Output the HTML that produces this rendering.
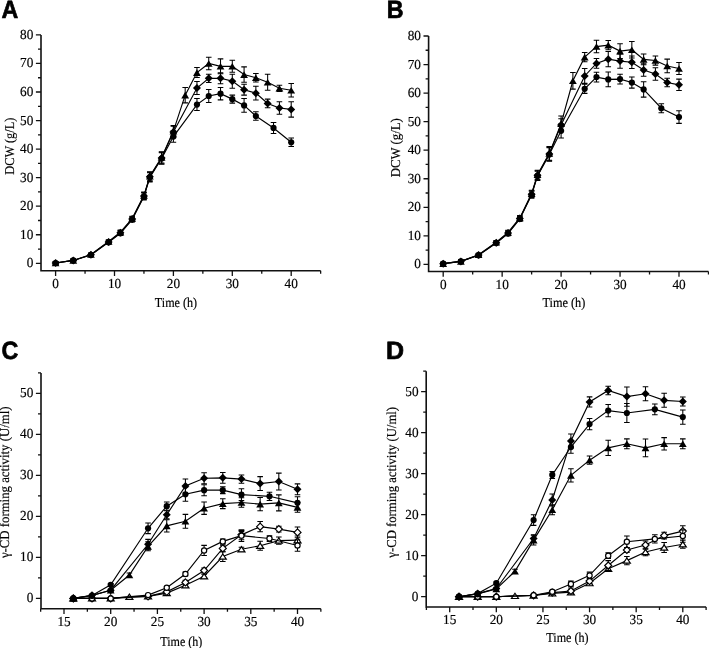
<!DOCTYPE html><html><head><meta charset="utf-8"><style>
html,body{margin:0;padding:0;background:#fff;width:709px;height:648px;overflow:hidden}
svg{display:block;will-change:transform}
text{text-rendering:geometricPrecision}
.ax{fill:none;stroke:#111;stroke-width:1.6}
.tk{fill:none;stroke:#111;stroke-width:1.3}
.ln{fill:none;stroke:#000;stroke-width:1.15}
.eb{fill:none;stroke:#000;stroke-width:1.05}
.f{fill:#000;stroke:none}
.o{fill:#fff;stroke:#000;stroke-width:1.2}
.t{font-family:"Liberation Serif",serif;font-size:13.8px;fill:#000;stroke:#000;stroke-width:0.18px}
.l{font-family:"Liberation Serif",serif;font-size:13.6px;fill:#000;stroke:#000;stroke-width:0.18px}
.p{font-family:"Liberation Sans",sans-serif;font-weight:bold;font-size:25px;fill:#000;stroke:#000;stroke-width:0.7px;stroke-linejoin:round}
</style></head><body>
<svg width="709" height="648" viewBox="0 0 709 648">
<text transform="translate(1.5 18) scale(0.93 1)" class="p">A</text>
<text transform="translate(386.8 17.8) scale(0.93 1)" class="p">B</text>
<text transform="translate(1.5 359.2) scale(0.93 1)" class="p">C</text>
<text x="386" y="359.2" class="p">D</text>
<path d="M41 34.9V270.7H320.65" class="ax"/>
<path d="M35.9 263.3H41M35.9 234.75H41M35.9 206.2H41M35.9 177.65H41M35.9 149.1H41M35.9 120.55H41M35.9 92H41M35.9 63.45H41M35.9 34.9H41M38 249.03H41M38 220.48H41M38 191.93H41M38 163.38H41M38 134.83H41M38 106.28H41M38 77.73H41M38 49.18H41M55.6 270.7V275.9M114.5 270.7V275.9M173.4 270.7V275.9M232.3 270.7V275.9M291.2 270.7V275.9M85.05 270.7V273.7M143.95 270.7V273.7M202.85 270.7V273.7M261.75 270.7V273.7M320.65 270.7V273.7" class="tk"/>
<text transform="translate(33.3 267.3) scale(0.96 1)" text-anchor="end" class="t">0</text>
<text transform="translate(33.3 238.75) scale(0.96 1)" text-anchor="end" class="t">10</text>
<text transform="translate(33.3 210.2) scale(0.96 1)" text-anchor="end" class="t">20</text>
<text transform="translate(33.3 181.65) scale(0.96 1)" text-anchor="end" class="t">30</text>
<text transform="translate(33.3 153.1) scale(0.96 1)" text-anchor="end" class="t">40</text>
<text transform="translate(33.3 124.55) scale(0.96 1)" text-anchor="end" class="t">50</text>
<text transform="translate(33.3 96) scale(0.96 1)" text-anchor="end" class="t">60</text>
<text transform="translate(33.3 67.45) scale(0.96 1)" text-anchor="end" class="t">70</text>
<text transform="translate(33.3 38.9) scale(0.96 1)" text-anchor="end" class="t">80</text>
<text transform="translate(55.6 288.1) scale(0.96 1)" text-anchor="middle" class="t">0</text>
<text transform="translate(114.5 288.1) scale(0.96 1)" text-anchor="middle" class="t">10</text>
<text transform="translate(173.4 288.1) scale(0.96 1)" text-anchor="middle" class="t">20</text>
<text transform="translate(232.3 288.1) scale(0.96 1)" text-anchor="middle" class="t">30</text>
<text transform="translate(291.2 288.1) scale(0.96 1)" text-anchor="middle" class="t">40</text>
<path d="M428.6 36V271.5H708.47" class="ax"/>
<path d="M423.5 264.4H428.6M423.5 235.85H428.6M423.5 207.3H428.6M423.5 178.75H428.6M423.5 150.2H428.6M423.5 121.65H428.6M423.5 93.1H428.6M423.5 64.55H428.6M423.5 36H428.6M425.6 250.12H428.6M425.6 221.57H428.6M425.6 193.02H428.6M425.6 164.47H428.6M425.6 135.92H428.6M425.6 107.37H428.6M425.6 78.82H428.6M425.6 50.27H428.6M443.2 271.5V276.7M502.15 271.5V276.7M561.1 271.5V276.7M620.05 271.5V276.7M679 271.5V276.7M472.68 271.5V274.5M531.62 271.5V274.5M590.58 271.5V274.5M649.52 271.5V274.5M708.47 271.5V274.5" class="tk"/>
<text transform="translate(420.9 268.4) scale(0.96 1)" text-anchor="end" class="t">0</text>
<text transform="translate(420.9 239.85) scale(0.96 1)" text-anchor="end" class="t">10</text>
<text transform="translate(420.9 211.3) scale(0.96 1)" text-anchor="end" class="t">20</text>
<text transform="translate(420.9 182.75) scale(0.96 1)" text-anchor="end" class="t">30</text>
<text transform="translate(420.9 154.2) scale(0.96 1)" text-anchor="end" class="t">40</text>
<text transform="translate(420.9 125.65) scale(0.96 1)" text-anchor="end" class="t">50</text>
<text transform="translate(420.9 97.1) scale(0.96 1)" text-anchor="end" class="t">60</text>
<text transform="translate(420.9 68.55) scale(0.96 1)" text-anchor="end" class="t">70</text>
<text transform="translate(420.9 40) scale(0.96 1)" text-anchor="end" class="t">80</text>
<text transform="translate(443.2 288.9) scale(0.96 1)" text-anchor="middle" class="t">0</text>
<text transform="translate(502.15 288.9) scale(0.96 1)" text-anchor="middle" class="t">10</text>
<text transform="translate(561.1 288.9) scale(0.96 1)" text-anchor="middle" class="t">20</text>
<text transform="translate(620.05 288.9) scale(0.96 1)" text-anchor="middle" class="t">30</text>
<text transform="translate(679 288.9) scale(0.96 1)" text-anchor="middle" class="t">40</text>
<path d="M41 372.9V608.7H320.85" class="ax"/>
<path d="M35.9 598.4H41M35.9 557.4H41M35.9 516.4H41M35.9 475.4H41M35.9 434.4H41M35.9 393.4H41M38 577.9H41M38 536.9H41M38 495.9H41M38 454.9H41M38 413.9H41M38 372.9H41M64 608.7V613.9M110.7 608.7V613.9M157.4 608.7V613.9M204.1 608.7V613.9M250.8 608.7V613.9M297.5 608.7V613.9M40.65 608.7V611.7M87.35 608.7V611.7M134.05 608.7V611.7M180.75 608.7V611.7M227.45 608.7V611.7M274.15 608.7V611.7M320.85 608.7V611.7" class="tk"/>
<text transform="translate(33.3 602.4) scale(0.96 1)" text-anchor="end" class="t">0</text>
<text transform="translate(33.3 561.4) scale(0.96 1)" text-anchor="end" class="t">10</text>
<text transform="translate(33.3 520.4) scale(0.96 1)" text-anchor="end" class="t">20</text>
<text transform="translate(33.3 479.4) scale(0.96 1)" text-anchor="end" class="t">30</text>
<text transform="translate(33.3 438.4) scale(0.96 1)" text-anchor="end" class="t">40</text>
<text transform="translate(33.3 397.4) scale(0.96 1)" text-anchor="end" class="t">50</text>
<text transform="translate(64 626.1) scale(0.96 1)" text-anchor="middle" class="t">15</text>
<text transform="translate(110.7 626.1) scale(0.96 1)" text-anchor="middle" class="t">20</text>
<text transform="translate(157.4 626.1) scale(0.96 1)" text-anchor="middle" class="t">25</text>
<text transform="translate(204.1 626.1) scale(0.96 1)" text-anchor="middle" class="t">30</text>
<text transform="translate(250.8 626.1) scale(0.96 1)" text-anchor="middle" class="t">35</text>
<text transform="translate(297.5 626.1) scale(0.96 1)" text-anchor="middle" class="t">40</text>
<path d="M426.2 371.2V607H706.11" class="ax"/>
<path d="M421.1 596.7H426.2M421.1 555.7H426.2M421.1 514.7H426.2M421.1 473.7H426.2M421.1 432.7H426.2M421.1 391.7H426.2M423.2 576.2H426.2M423.2 535.2H426.2M423.2 494.2H426.2M423.2 453.2H426.2M423.2 412.2H426.2M423.2 371.2H426.2M449.7 607V612.2M496.32 607V612.2M542.94 607V612.2M589.56 607V612.2M636.18 607V612.2M682.8 607V612.2M426.39 607V610M473.01 607V610M519.63 607V610M566.25 607V610M612.87 607V610M659.49 607V610M706.11 607V610" class="tk"/>
<text transform="translate(418.5 600.7) scale(0.96 1)" text-anchor="end" class="t">0</text>
<text transform="translate(418.5 559.7) scale(0.96 1)" text-anchor="end" class="t">10</text>
<text transform="translate(418.5 518.7) scale(0.96 1)" text-anchor="end" class="t">20</text>
<text transform="translate(418.5 477.7) scale(0.96 1)" text-anchor="end" class="t">30</text>
<text transform="translate(418.5 436.7) scale(0.96 1)" text-anchor="end" class="t">40</text>
<text transform="translate(418.5 395.7) scale(0.96 1)" text-anchor="end" class="t">50</text>
<text transform="translate(449.7 624.4) scale(0.96 1)" text-anchor="middle" class="t">15</text>
<text transform="translate(496.32 624.4) scale(0.96 1)" text-anchor="middle" class="t">20</text>
<text transform="translate(542.94 624.4) scale(0.96 1)" text-anchor="middle" class="t">25</text>
<text transform="translate(589.56 624.4) scale(0.96 1)" text-anchor="middle" class="t">30</text>
<text transform="translate(636.18 624.4) scale(0.96 1)" text-anchor="middle" class="t">35</text>
<text transform="translate(682.8 624.4) scale(0.96 1)" text-anchor="middle" class="t">40</text>
<text class="l" text-anchor="middle" transform="translate(13.5 146.2) rotate(-90)" textLength="57.2" lengthAdjust="spacingAndGlyphs">DCW (g/L)</text>
<text class="l" text-anchor="middle" transform="translate(399.8 147.7) rotate(-90)" textLength="59" lengthAdjust="spacingAndGlyphs">DCW (g/L)</text>
<text class="l" text-anchor="middle" transform="translate(9.4 482.3) rotate(-90)" textLength="151.6" lengthAdjust="spacingAndGlyphs">γ-CD forming activity (U/ml)</text>
<text class="l" text-anchor="middle" transform="translate(396 482.3) rotate(-90)" textLength="150.7" lengthAdjust="spacingAndGlyphs">γ-CD forming activity (U/ml)</text>
<text class="l" x="176" y="306.7" text-anchor="middle" textLength="42.3" lengthAdjust="spacingAndGlyphs">Time (h)</text>
<text class="l" x="563.9" y="306.7" text-anchor="middle" textLength="42.9" lengthAdjust="spacingAndGlyphs">Time (h)</text>
<text class="l" x="181.3" y="645.7" text-anchor="middle" textLength="42.1" lengthAdjust="spacingAndGlyphs">Time (h)</text>
<text class="l" x="567.5" y="641.6" text-anchor="middle" textLength="42.3" lengthAdjust="spacingAndGlyphs">Time (h)</text>
<path d="M55.6 263.01L73.27 260.44L90.94 254.96L108.61 242.29L120.39 233.27L132.17 219.56L143.95 196.49L149.84 177.36L161.62 158.52L173.4 136.54L196.96 104.56L208.74 96L220.52 93.71L232.3 99.14L244.08 105.42L255.86 115.98L273.53 127.97L291.2 142.25" class="ln"/>
<path d="M55.6 261.59V264.44M52.8 261.59H58.4M52.8 264.44H58.4M73.27 259.02V261.87M70.47 259.02H76.07M70.47 261.87H76.07M90.94 253.54V256.39M88.14 253.54H93.74M88.14 256.39H93.74M108.61 240.57V244M105.81 240.57H111.41M105.81 244H111.41M120.39 230.98V235.55M117.59 230.98H123.19M117.59 235.55H123.19M132.17 217.28V221.85M129.37 217.28H134.97M129.37 221.85H134.97M143.95 193.07V199.92M141.15 193.07H146.75M141.15 199.92H146.75M149.84 172.8V181.93M147.04 172.8H152.64M147.04 181.93H152.64M161.62 152.81V164.23M158.82 152.81H164.42M158.82 164.23H164.42M173.4 130.83V142.25M170.6 130.83H176.2M170.6 142.25H176.2M196.96 98.57V110.56M194.16 98.57H199.76M194.16 110.56H199.76M208.74 89.43V102.56M205.94 89.43H211.54M205.94 102.56H211.54M220.52 87.57V99.85M217.72 87.57H223.32M217.72 99.85H223.32M232.3 95.14V103.13M229.5 95.14H235.1M229.5 103.13H235.1M244.08 98.57V112.27M241.28 98.57H246.88M241.28 112.27H246.88M255.86 111.7V120.26M253.06 111.7H258.66M253.06 120.26H258.66M273.53 122.55V133.4M270.73 122.55H276.33M270.73 133.4H276.33M291.2 137.97V146.53M288.4 137.97H294M288.4 146.53H294" class="eb"/>
<circle cx="55.6" cy="263.01" r="3.1" class="f"/>
<circle cx="73.27" cy="260.44" r="3.1" class="f"/>
<circle cx="90.94" cy="254.96" r="3.1" class="f"/>
<circle cx="108.61" cy="242.29" r="3.1" class="f"/>
<circle cx="120.39" cy="233.27" r="3.1" class="f"/>
<circle cx="132.17" cy="219.56" r="3.1" class="f"/>
<circle cx="143.95" cy="196.49" r="3.1" class="f"/>
<circle cx="149.84" cy="177.36" r="3.1" class="f"/>
<circle cx="161.62" cy="158.52" r="3.1" class="f"/>
<circle cx="173.4" cy="136.54" r="3.1" class="f"/>
<circle cx="196.96" cy="104.56" r="3.1" class="f"/>
<circle cx="208.74" cy="96" r="3.1" class="f"/>
<circle cx="220.52" cy="93.71" r="3.1" class="f"/>
<circle cx="232.3" cy="99.14" r="3.1" class="f"/>
<circle cx="244.08" cy="105.42" r="3.1" class="f"/>
<circle cx="255.86" cy="115.98" r="3.1" class="f"/>
<circle cx="273.53" cy="127.97" r="3.1" class="f"/>
<circle cx="291.2" cy="142.25" r="3.1" class="f"/>
<path d="M55.6 263.01L73.27 260.44L90.94 254.51L108.61 241.49L120.39 232.24L132.17 218.53L143.95 195.35L149.84 176.22L161.62 157.38L173.4 131.11L185.18 95.14L196.96 72.59L208.74 63.45L220.52 66.31L232.3 66.31L244.08 74.58L255.86 77.73L267.64 82.29L279.42 88.29L291.2 90.29" class="ln"/>
<path d="M55.6 261.59V264.44M52.8 261.59H58.4M52.8 264.44H58.4M73.27 259.02V261.87M70.47 259.02H76.07M70.47 261.87H76.07M90.94 253.08V255.93M88.14 253.08H93.74M88.14 255.93H93.74M108.61 239.77V243.2M105.81 239.77H111.41M105.81 243.2H111.41M120.39 229.95V234.52M117.59 229.95H123.19M117.59 234.52H123.19M132.17 216.25V220.82M129.37 216.25H134.97M129.37 220.82H134.97M143.95 191.93V198.78M141.15 191.93H146.75M141.15 198.78H146.75M149.84 171.65V180.79M147.04 171.65H152.64M147.04 180.79H152.64M161.62 151.67V163.09M158.82 151.67H164.42M158.82 163.09H164.42M173.4 125.4V136.82M170.6 125.4H176.2M170.6 136.82H176.2M185.18 87.43V102.85M182.38 87.43H187.98M182.38 102.85H187.98M196.96 67.59V77.58M194.16 67.59H199.76M194.16 77.58H199.76M208.74 57.17V69.73M205.94 57.17H211.54M205.94 69.73H211.54M220.52 58.88V73.73M217.72 58.88H223.32M217.72 73.73H223.32M232.3 60.31V72.3M229.5 60.31H235.1M229.5 72.3H235.1M244.08 66.88V82.29M241.28 66.88H246.88M241.28 82.29H246.88M255.86 73.44V82.01M253.06 73.44H258.66M253.06 82.01H258.66M267.64 74.3V90.29M264.84 74.3H270.44M264.84 90.29H270.44M279.42 85.15V91.43M276.62 85.15H282.22M276.62 91.43H282.22M291.2 83.58V97M288.4 83.58H294M288.4 97H294" class="eb"/>
<path d="M55.6 259.71L59.5 266.31L51.7 266.31Z" class="f"/>
<path d="M73.27 257.14L77.17 263.75L69.37 263.75Z" class="f"/>
<path d="M90.94 251.21L94.84 257.81L87.04 257.81Z" class="f"/>
<path d="M108.61 238.19L112.51 244.79L104.71 244.79Z" class="f"/>
<path d="M120.39 228.94L124.29 235.54L116.49 235.54Z" class="f"/>
<path d="M132.17 215.23L136.07 221.83L128.27 221.83Z" class="f"/>
<path d="M143.95 192.05L147.85 198.65L140.05 198.65Z" class="f"/>
<path d="M149.84 172.92L153.74 179.52L145.94 179.52Z" class="f"/>
<path d="M161.62 154.08L165.52 160.68L157.72 160.68Z" class="f"/>
<path d="M173.4 127.81L177.3 134.41L169.5 134.41Z" class="f"/>
<path d="M185.18 91.84L189.08 98.44L181.28 98.44Z" class="f"/>
<path d="M196.96 69.29L200.86 75.89L193.06 75.89Z" class="f"/>
<path d="M208.74 60.15L212.64 66.75L204.84 66.75Z" class="f"/>
<path d="M220.52 63.01L224.42 69.61L216.62 69.61Z" class="f"/>
<path d="M232.3 63.01L236.2 69.61L228.4 69.61Z" class="f"/>
<path d="M244.08 71.28L247.98 77.88L240.18 77.88Z" class="f"/>
<path d="M255.86 74.43L259.76 81.03L251.96 81.03Z" class="f"/>
<path d="M267.64 78.99L271.54 85.59L263.74 85.59Z" class="f"/>
<path d="M279.42 84.99L283.32 91.59L275.52 91.59Z" class="f"/>
<path d="M291.2 86.99L295.1 93.59L287.3 93.59Z" class="f"/>
<path d="M55.6 263.01L73.27 260.44L90.94 254.74L108.61 241.89L120.39 232.75L132.17 219.05L143.95 195.92L149.84 176.79L161.62 157.95L173.4 131.97L196.96 88L208.74 78.3L220.52 78.3L232.3 81.15L244.08 89.72L255.86 93.14L267.64 103.42L279.42 107.99L291.2 109.42" class="ln"/>
<path d="M55.6 261.59V264.44M52.8 261.59H58.4M52.8 264.44H58.4M73.27 259.02V261.87M70.47 259.02H76.07M70.47 261.87H76.07M90.94 253.31V256.16M88.14 253.31H93.74M88.14 256.16H93.74M108.61 240.17V243.6M105.81 240.17H111.41M105.81 243.6H111.41M120.39 230.47V235.04M117.59 230.47H123.19M117.59 235.04H123.19M132.17 216.76V221.33M129.37 216.76H134.97M129.37 221.33H134.97M143.95 192.5V199.35M141.15 192.5H146.75M141.15 199.35H146.75M149.84 172.23V181.36M147.04 172.23H152.64M147.04 181.36H152.64M161.62 152.24V163.66M158.82 152.24H164.42M158.82 163.66H164.42M173.4 126.26V137.68M170.6 126.26H176.2M170.6 137.68H176.2M196.96 81.44V94.57M194.16 81.44H199.76M194.16 94.57H199.76M208.74 74.16V82.44M205.94 74.16H211.54M205.94 82.44H211.54M220.52 72.87V83.72M217.72 72.87H223.32M217.72 83.72H223.32M232.3 74.16V88.15M229.5 74.16H235.1M229.5 88.15H235.1M244.08 84.29V95.14M241.28 84.29H246.88M241.28 95.14H246.88M255.86 86.29V99.99M253.06 86.29H258.66M253.06 99.99H258.66M267.64 99.14V107.7M264.84 99.14H270.44M264.84 107.7H270.44M279.42 101.71V114.27M276.62 101.71H282.22M276.62 114.27H282.22M291.2 101.71V117.12M288.4 101.71H294M288.4 117.12H294" class="eb"/>
<path d="M55.6 259.01L59.6 263.01L55.6 267.01L51.6 263.01Z" class="f"/>
<path d="M73.27 256.44L77.27 260.44L73.27 264.44L69.27 260.44Z" class="f"/>
<path d="M90.94 250.74L94.94 254.74L90.94 258.74L86.94 254.74Z" class="f"/>
<path d="M108.61 237.89L112.61 241.89L108.61 245.89L104.61 241.89Z" class="f"/>
<path d="M120.39 228.75L124.39 232.75L120.39 236.75L116.39 232.75Z" class="f"/>
<path d="M132.17 215.05L136.17 219.05L132.17 223.05L128.17 219.05Z" class="f"/>
<path d="M143.95 191.92L147.95 195.92L143.95 199.92L139.95 195.92Z" class="f"/>
<path d="M149.84 172.79L153.84 176.79L149.84 180.79L145.84 176.79Z" class="f"/>
<path d="M161.62 153.95L165.62 157.95L161.62 161.95L157.62 157.95Z" class="f"/>
<path d="M173.4 127.97L177.4 131.97L173.4 135.97L169.4 131.97Z" class="f"/>
<path d="M196.96 84L200.96 88L196.96 92L192.96 88Z" class="f"/>
<path d="M208.74 74.3L212.74 78.3L208.74 82.3L204.74 78.3Z" class="f"/>
<path d="M220.52 74.3L224.52 78.3L220.52 82.3L216.52 78.3Z" class="f"/>
<path d="M232.3 77.15L236.3 81.15L232.3 85.15L228.3 81.15Z" class="f"/>
<path d="M244.08 85.72L248.08 89.72L244.08 93.72L240.08 89.72Z" class="f"/>
<path d="M255.86 89.14L259.86 93.14L255.86 97.14L251.86 93.14Z" class="f"/>
<path d="M267.64 99.42L271.64 103.42L267.64 107.42L263.64 103.42Z" class="f"/>
<path d="M279.42 103.99L283.42 107.99L279.42 111.99L275.42 107.99Z" class="f"/>
<path d="M291.2 105.42L295.2 109.42L291.2 113.42L287.2 109.42Z" class="f"/>
<path d="M443.2 263.69L460.88 261.4L478.57 255.21L496.25 243.1L508.04 233.51L519.84 218.95L531.62 194.74L537.52 175.89L549.31 154.48L561.1 130.79L584.68 88.82L596.47 77.11L608.26 79.4L620.05 79.11L631.84 82.54L643.63 89.39L661.31 108.23L679 117.08" class="ln"/>
<path d="M443.2 262.26V265.11M440.4 262.26H446M440.4 265.11H446M460.88 259.97V262.83M458.08 259.97H463.69M458.08 262.83H463.69M478.57 253.78V256.63M475.77 253.78H481.37M475.77 256.63H481.37M496.25 241.39V244.81M493.45 241.39H499.06M493.45 244.81H499.06M508.04 231.22V235.79M505.24 231.22H510.84M505.24 235.79H510.84M519.84 216.66V221.23M517.04 216.66H522.63M517.04 221.23H522.63M531.62 191.31V198.16M528.83 191.31H534.42M528.83 198.16H534.42M537.52 171.33V180.46M534.72 171.33H540.32M534.72 180.46H540.32M549.31 147.63V161.33M546.51 147.63H552.11M546.51 161.33H552.11M561.1 123.65V137.92M558.3 123.65H563.9M558.3 137.92H563.9M584.68 84.25V93.39M581.88 84.25H587.48M581.88 93.39H587.48M596.47 72.26V81.97M593.67 72.26H599.27M593.67 81.97H599.27M608.26 71.97V86.82M605.46 71.97H611.06M605.46 86.82H611.06M620.05 74.26V83.96M617.25 74.26H622.85M617.25 83.96H622.85M631.84 76.97V88.1M629.04 76.97H634.64M629.04 88.1H634.64M643.63 81.68V97.1M640.83 81.68H646.43M640.83 97.1H646.43M661.31 103.66V112.8M658.51 103.66H664.11M658.51 112.8H664.11M679 110.8V123.36M676.2 110.8H681.8M676.2 123.36H681.8" class="eb"/>
<circle cx="443.2" cy="263.69" r="3.1" class="f"/>
<circle cx="460.88" cy="261.4" r="3.1" class="f"/>
<circle cx="478.57" cy="255.21" r="3.1" class="f"/>
<circle cx="496.25" cy="243.1" r="3.1" class="f"/>
<circle cx="508.04" cy="233.51" r="3.1" class="f"/>
<circle cx="519.84" cy="218.95" r="3.1" class="f"/>
<circle cx="531.62" cy="194.74" r="3.1" class="f"/>
<circle cx="537.52" cy="175.89" r="3.1" class="f"/>
<circle cx="549.31" cy="154.48" r="3.1" class="f"/>
<circle cx="561.1" cy="130.79" r="3.1" class="f"/>
<circle cx="584.68" cy="88.82" r="3.1" class="f"/>
<circle cx="596.47" cy="77.11" r="3.1" class="f"/>
<circle cx="608.26" cy="79.4" r="3.1" class="f"/>
<circle cx="620.05" cy="79.11" r="3.1" class="f"/>
<circle cx="631.84" cy="82.54" r="3.1" class="f"/>
<circle cx="643.63" cy="89.39" r="3.1" class="f"/>
<circle cx="661.31" cy="108.23" r="3.1" class="f"/>
<circle cx="679" cy="117.08" r="3.1" class="f"/>
<path d="M443.2 263.69L460.88 261.4L478.57 254.75L496.25 242.3L508.04 232.48L519.84 217.92L531.62 193.6L537.52 174.75L549.31 153.34L561.1 123.65L572.89 80.82L584.68 57.13L596.47 46.56L608.26 45.14L620.05 51.13L631.84 49.7L643.63 59.41L655.42 60.55L667.21 65.98L679 68.55" class="ln"/>
<path d="M443.2 262.26V265.11M440.4 262.26H446M440.4 265.11H446M460.88 259.97V262.83M458.08 259.97H463.69M458.08 262.83H463.69M478.57 253.32V256.18M475.77 253.32H481.37M475.77 256.18H481.37M496.25 240.59V244.02M493.45 240.59H499.06M493.45 244.02H499.06M508.04 230.2V234.77M505.24 230.2H510.84M505.24 234.77H510.84M519.84 215.64V220.2M517.04 215.64H522.63M517.04 220.2H522.63M531.62 190.17V197.02M528.83 190.17H534.42M528.83 197.02H534.42M537.52 170.18V179.32M534.72 170.18H540.32M534.72 179.32H540.32M549.31 146.49V160.19M546.51 146.49H552.11M546.51 160.19H552.11M561.1 115.94V131.36M558.3 115.94H563.9M558.3 131.36H563.9M572.89 72.54V89.1M570.09 72.54H575.69M570.09 89.1H575.69M584.68 52.56V61.69M581.88 52.56H587.48M581.88 61.69H587.48M596.47 40.28V52.84M593.67 40.28H599.27M593.67 52.84H599.27M608.26 40.57V49.7M605.46 40.57H611.06M605.46 49.7H611.06M620.05 43.71V58.55M617.25 43.71H622.85M617.25 58.55H622.85M631.84 41.42V57.98M629.04 41.42H634.64M629.04 57.98H634.64M643.63 53.99V64.84M640.83 53.99H646.43M640.83 64.84H646.43M655.42 55.98V65.12M652.62 55.98H658.22M652.62 65.12H658.22M667.21 59.13V72.83M664.41 59.13H670.01M664.41 72.83H670.01M679 62.55V74.54M676.2 62.55H681.8M676.2 74.54H681.8" class="eb"/>
<path d="M443.2 260.39L447.1 266.99L439.3 266.99Z" class="f"/>
<path d="M460.88 258.1L464.78 264.7L456.99 264.7Z" class="f"/>
<path d="M478.57 251.45L482.47 258.05L474.67 258.05Z" class="f"/>
<path d="M496.25 239L500.15 245.6L492.36 245.6Z" class="f"/>
<path d="M508.04 229.18L511.94 235.78L504.14 235.78Z" class="f"/>
<path d="M519.84 214.62L523.74 221.22L515.94 221.22Z" class="f"/>
<path d="M531.62 190.3L535.52 196.9L527.73 196.9Z" class="f"/>
<path d="M537.52 171.45L541.42 178.05L533.62 178.05Z" class="f"/>
<path d="M549.31 150.04L553.21 156.64L545.41 156.64Z" class="f"/>
<path d="M561.1 120.35L565 126.95L557.2 126.95Z" class="f"/>
<path d="M572.89 77.52L576.79 84.12L568.99 84.12Z" class="f"/>
<path d="M584.68 53.83L588.58 60.43L580.78 60.43Z" class="f"/>
<path d="M596.47 43.26L600.37 49.86L592.57 49.86Z" class="f"/>
<path d="M608.26 41.84L612.16 48.44L604.36 48.44Z" class="f"/>
<path d="M620.05 47.83L623.95 54.43L616.15 54.43Z" class="f"/>
<path d="M631.84 46.4L635.74 53L627.94 53Z" class="f"/>
<path d="M643.63 56.11L647.53 62.71L639.73 62.71Z" class="f"/>
<path d="M655.42 57.25L659.32 63.85L651.52 63.85Z" class="f"/>
<path d="M667.21 62.68L671.11 69.28L663.31 69.28Z" class="f"/>
<path d="M679 65.25L682.9 71.85L675.1 71.85Z" class="f"/>
<path d="M443.2 263.69L460.88 261.4L478.57 254.98L496.25 242.7L508.04 232.99L519.84 218.43L531.62 194.17L537.52 175.32L549.31 153.91L561.1 125.08L584.68 75.97L596.47 63.41L608.26 59.13L620.05 61.12L631.84 62.27L643.63 69.97L655.42 73.97L667.21 82.54L679 84.82" class="ln"/>
<path d="M443.2 262.26V265.11M440.4 262.26H446M440.4 265.11H446M460.88 259.97V262.83M458.08 259.97H463.69M458.08 262.83H463.69M478.57 253.55V256.41M475.77 253.55H481.37M475.77 256.41H481.37M496.25 240.99V244.41M493.45 240.99H499.06M493.45 244.41H499.06M508.04 230.71V235.28M505.24 230.71H510.84M505.24 235.28H510.84M519.84 216.15V220.72M517.04 216.15H522.63M517.04 220.72H522.63M531.62 190.74V197.59M528.83 190.74H534.42M528.83 197.59H534.42M537.52 170.76V179.89M534.72 170.76H540.32M534.72 179.89H540.32M549.31 147.06V160.76M546.51 147.06H552.11M546.51 160.76H552.11M561.1 118.79V131.36M558.3 118.79H563.9M558.3 131.36H563.9M584.68 68.55V83.39M581.88 68.55H587.48M581.88 83.39H587.48M596.47 58.55V68.26M593.67 58.55H599.27M593.67 68.26H599.27M608.26 51.42V66.83M605.46 51.42H611.06M605.46 66.83H611.06M620.05 53.99V68.26M617.25 53.99H622.85M617.25 68.26H622.85M631.84 55.98V68.55M629.04 55.98H634.64M629.04 68.55H634.64M643.63 63.69V76.26M640.83 63.69H646.43M640.83 76.26H646.43M655.42 67.69V80.25M652.62 67.69H658.22M652.62 80.25H658.22M667.21 78.25V86.82M664.41 78.25H670.01M664.41 86.82H670.01M679 79.11V90.53M676.2 79.11H681.8M676.2 90.53H681.8" class="eb"/>
<path d="M443.2 259.69L447.2 263.69L443.2 267.69L439.2 263.69Z" class="f"/>
<path d="M460.88 257.4L464.88 261.4L460.88 265.4L456.88 261.4Z" class="f"/>
<path d="M478.57 250.98L482.57 254.98L478.57 258.98L474.57 254.98Z" class="f"/>
<path d="M496.25 238.7L500.25 242.7L496.25 246.7L492.25 242.7Z" class="f"/>
<path d="M508.04 228.99L512.04 232.99L508.04 236.99L504.04 232.99Z" class="f"/>
<path d="M519.84 214.43L523.84 218.43L519.84 222.43L515.84 218.43Z" class="f"/>
<path d="M531.62 190.17L535.62 194.17L531.62 198.17L527.62 194.17Z" class="f"/>
<path d="M537.52 171.32L541.52 175.32L537.52 179.32L533.52 175.32Z" class="f"/>
<path d="M549.31 149.91L553.31 153.91L549.31 157.91L545.31 153.91Z" class="f"/>
<path d="M561.1 121.08L565.1 125.08L561.1 129.08L557.1 125.08Z" class="f"/>
<path d="M584.68 71.97L588.68 75.97L584.68 79.97L580.68 75.97Z" class="f"/>
<path d="M596.47 59.41L600.47 63.41L596.47 67.41L592.47 63.41Z" class="f"/>
<path d="M608.26 55.13L612.26 59.13L608.26 63.13L604.26 59.13Z" class="f"/>
<path d="M620.05 57.12L624.05 61.12L620.05 65.12L616.05 61.12Z" class="f"/>
<path d="M631.84 58.27L635.84 62.27L631.84 66.27L627.84 62.27Z" class="f"/>
<path d="M643.63 65.97L647.63 69.97L643.63 73.97L639.63 69.97Z" class="f"/>
<path d="M655.42 69.97L659.42 73.97L655.42 77.97L651.42 73.97Z" class="f"/>
<path d="M667.21 78.54L671.21 82.54L667.21 86.54L663.21 82.54Z" class="f"/>
<path d="M679 80.82L683 84.82L679 88.82L675 84.82Z" class="f"/>
<path d="M73.34 598.4L92.02 598.4L110.7 598.4L129.38 596.76L148.06 596.35L166.74 593.07L185.42 585.28L204.1 576.26L222.78 556.58L241.46 549.2L260.14 545.72L278.82 540.59L297.5 540.18" class="ln"/>
<path d="M166.74 591.43V594.71M163.94 591.43H169.54M163.94 594.71H169.54M185.42 583.23V587.33M182.62 583.23H188.22M182.62 587.33H188.22M204.1 574.21V578.31M201.3 574.21H206.9M201.3 578.31H206.9M222.78 551.66V561.5M219.98 551.66H225.58M219.98 561.5H225.58M241.46 547.15V551.25M238.66 547.15H244.26M238.66 551.25H244.26M260.14 541.21V550.23M257.34 541.21H262.94M257.34 550.23H262.94M278.82 536.9V544.28M276.02 536.9H281.62M276.02 544.28H281.62M297.5 536.08V544.28M294.7 536.08H300.3M294.7 544.28H300.3" class="eb"/>
<path d="M73.34 595.8L76.84 601L69.84 601Z" class="o"/>
<path d="M92.02 595.8L95.52 601L88.52 601Z" class="o"/>
<path d="M110.7 595.8L114.2 601L107.2 601Z" class="o"/>
<path d="M129.38 594.16L132.88 599.36L125.88 599.36Z" class="o"/>
<path d="M148.06 593.75L151.56 598.95L144.56 598.95Z" class="o"/>
<path d="M166.74 590.47L170.24 595.67L163.24 595.67Z" class="o"/>
<path d="M185.42 582.68L188.92 587.88L181.92 587.88Z" class="o"/>
<path d="M204.1 573.66L207.6 578.86L200.6 578.86Z" class="o"/>
<path d="M222.78 553.98L226.28 559.18L219.28 559.18Z" class="o"/>
<path d="M241.46 546.6L244.96 551.8L237.96 551.8Z" class="o"/>
<path d="M260.14 543.12L263.64 548.32L256.64 548.32Z" class="o"/>
<path d="M278.82 537.99L282.32 543.19L275.32 543.19Z" class="o"/>
<path d="M297.5 537.58L301 542.78L294 542.78Z" class="o"/>
<path d="M73.34 598.4L92.02 598.4L110.7 598.4L148.06 596.35L166.74 591.84L185.42 582.41L204.1 570.52L222.78 548.38L241.46 534.85L260.14 526.65L278.82 529.11L297.5 532.39" class="ln"/>
<path d="M166.74 590.61V593.07M163.94 590.61H169.54M163.94 593.07H169.54M185.42 580.36V584.46M182.62 580.36H188.22M182.62 584.46H188.22M204.1 568.06V572.98M201.3 568.06H206.9M201.3 572.98H206.9M222.78 545.1V551.66M219.98 545.1H225.58M219.98 551.66H225.58M241.46 529.93V539.77M238.66 529.93H244.26M238.66 539.77H244.26M260.14 521.57V531.73M257.34 521.57H262.94M257.34 531.73H262.94M278.82 526.24V531.98M276.02 526.24H281.62M276.02 531.98H281.62M297.5 527.06V537.72M294.7 527.06H300.3M294.7 537.72H300.3" class="eb"/>
<path d="M73.34 594.9L76.84 598.4L73.34 601.9L69.84 598.4Z" class="o"/>
<path d="M92.02 594.9L95.52 598.4L92.02 601.9L88.52 598.4Z" class="o"/>
<path d="M110.7 594.9L114.2 598.4L110.7 601.9L107.2 598.4Z" class="o"/>
<path d="M148.06 592.85L151.56 596.35L148.06 599.85L144.56 596.35Z" class="o"/>
<path d="M166.74 588.34L170.24 591.84L166.74 595.34L163.24 591.84Z" class="o"/>
<path d="M185.42 578.91L188.92 582.41L185.42 585.91L181.92 582.41Z" class="o"/>
<path d="M204.1 567.02L207.6 570.52L204.1 574.02L200.6 570.52Z" class="o"/>
<path d="M222.78 544.88L226.28 548.38L222.78 551.88L219.28 548.38Z" class="o"/>
<path d="M241.46 531.35L244.96 534.85L241.46 538.35L237.96 534.85Z" class="o"/>
<path d="M260.14 523.15L263.64 526.65L260.14 530.15L256.64 526.65Z" class="o"/>
<path d="M278.82 525.61L282.32 529.11L278.82 532.61L275.32 529.11Z" class="o"/>
<path d="M297.5 528.89L301 532.39L297.5 535.89L294 532.39Z" class="o"/>
<path d="M73.34 598.4L92.02 598.4L110.7 598.4L148.06 595.12L166.74 587.74L185.42 574L204.1 550.43L222.78 541.41L241.46 535.67L269.48 538.54L297.5 545.51" class="ln"/>
<path d="M166.74 586.51V588.97M163.94 586.51H169.54M163.94 588.97H169.54M185.42 571.96V576.05M182.62 571.96H188.22M182.62 576.05H188.22M204.1 545.35V555.51M201.3 545.35H206.9M201.3 555.51H206.9M222.78 538.95V543.87M219.98 538.95H225.58M219.98 543.87H225.58M241.46 529.93V541.41M238.66 529.93H244.26M238.66 541.41H244.26M269.48 535.67V541.41M266.68 535.67H272.28M266.68 541.41H272.28M297.5 539.77V551.25M294.7 539.77H300.3M294.7 551.25H300.3" class="eb"/>
<circle cx="73.34" cy="598.4" r="2.6" class="o"/>
<circle cx="92.02" cy="598.4" r="2.6" class="o"/>
<circle cx="110.7" cy="598.4" r="2.6" class="o"/>
<circle cx="148.06" cy="595.12" r="2.6" class="o"/>
<circle cx="166.74" cy="587.74" r="2.6" class="o"/>
<circle cx="185.42" cy="574" r="2.6" class="o"/>
<circle cx="204.1" cy="550.43" r="2.6" class="o"/>
<circle cx="222.78" cy="541.41" r="2.6" class="o"/>
<circle cx="241.46" cy="535.67" r="2.6" class="o"/>
<circle cx="269.48" cy="538.54" r="2.6" class="o"/>
<circle cx="297.5" cy="545.51" r="2.6" class="o"/>
<path d="M73.34 598.4L92.02 595.53L110.7 590.2L129.38 575.03L148.06 546.33L166.74 525.83L185.42 521.32L204.1 508.2L222.78 503.69L241.46 502.46L260.14 504.1L278.82 502.87L297.5 507.38" class="ln"/>
<path d="M110.7 588.97V591.43M107.9 588.97H113.5M107.9 591.43H113.5M129.38 572.98V577.08M126.58 572.98H132.18M126.58 577.08H132.18M148.06 541.82V550.84M145.26 541.82H150.86M145.26 550.84H150.86M166.74 519.68V531.98M163.94 519.68H169.54M163.94 531.98H169.54M185.42 514.35V528.29M182.62 514.35H188.22M182.62 528.29H188.22M204.1 502.05V514.35M201.3 502.05H206.9M201.3 514.35H206.9M222.78 498.77V508.61M219.98 498.77H225.58M219.98 508.61H225.58M241.46 497.75V507.17M238.66 497.75H244.26M238.66 507.17H244.26M260.14 497.54V510.66M257.34 497.54H262.94M257.34 510.66H262.94M278.82 494.88V510.87M276.02 494.88H281.62M276.02 510.87H281.62M297.5 502.46V512.3M294.7 502.46H300.3M294.7 512.3H300.3" class="eb"/>
<path d="M73.34 595.1L77.24 601.7L69.44 601.7Z" class="f"/>
<path d="M92.02 592.23L95.92 598.83L88.12 598.83Z" class="f"/>
<path d="M110.7 586.9L114.6 593.5L106.8 593.5Z" class="f"/>
<path d="M129.38 571.73L133.28 578.33L125.48 578.33Z" class="f"/>
<path d="M148.06 543.03L151.96 549.63L144.16 549.63Z" class="f"/>
<path d="M166.74 522.53L170.64 529.13L162.84 529.13Z" class="f"/>
<path d="M185.42 518.02L189.32 524.62L181.52 524.62Z" class="f"/>
<path d="M204.1 504.9L208 511.5L200.2 511.5Z" class="f"/>
<path d="M222.78 500.39L226.68 506.99L218.88 506.99Z" class="f"/>
<path d="M241.46 499.16L245.36 505.76L237.56 505.76Z" class="f"/>
<path d="M260.14 500.8L264.04 507.4L256.24 507.4Z" class="f"/>
<path d="M278.82 499.57L282.72 506.17L274.92 506.17Z" class="f"/>
<path d="M297.5 504.08L301.4 510.68L293.6 510.68Z" class="f"/>
<path d="M73.34 598.4L92.02 595.53L110.7 584.87L148.06 528.29L166.74 506.15L185.42 494.26L204.1 490.16L222.78 490.16L241.46 494.67L269.48 496.31L297.5 502.87" class="ln"/>
<path d="M110.7 583.64V586.1M107.9 583.64H113.5M107.9 586.1H113.5M148.06 522.96V533.62M145.26 522.96H150.86M145.26 533.62H150.86M166.74 502.05V510.25M163.94 502.05H169.54M163.94 510.25H169.54M185.42 487.29V501.23M182.62 487.29H188.22M182.62 501.23H188.22M204.1 484.67V495.65M201.3 484.67H206.9M201.3 495.65H206.9M222.78 486.67V493.64M219.98 486.67H225.58M219.98 493.64H225.58M241.46 488.72V500.61M238.66 488.72H244.26M238.66 500.61H244.26M269.48 492.21V500.41M266.68 492.21H272.28M266.68 500.41H272.28M297.5 496.72V509.02M294.7 496.72H300.3M294.7 509.02H300.3" class="eb"/>
<circle cx="73.34" cy="598.4" r="3.1" class="f"/>
<circle cx="92.02" cy="595.53" r="3.1" class="f"/>
<circle cx="110.7" cy="584.87" r="3.1" class="f"/>
<circle cx="148.06" cy="528.29" r="3.1" class="f"/>
<circle cx="166.74" cy="506.15" r="3.1" class="f"/>
<circle cx="185.42" cy="494.26" r="3.1" class="f"/>
<circle cx="204.1" cy="490.16" r="3.1" class="f"/>
<circle cx="222.78" cy="490.16" r="3.1" class="f"/>
<circle cx="241.46" cy="494.67" r="3.1" class="f"/>
<circle cx="269.48" cy="496.31" r="3.1" class="f"/>
<circle cx="297.5" cy="502.87" r="3.1" class="f"/>
<path d="M73.34 598.4L92.02 595.32L110.7 590.2L148.06 544.28L166.74 514.76L185.42 486.06L204.1 478.27L222.78 477.86L241.46 479.09L260.14 483.6L278.82 481.55L297.5 489.34" class="ln"/>
<path d="M110.7 588.97V591.43M107.9 588.97H113.5M107.9 591.43H113.5M148.06 539.36V549.2M145.26 539.36H150.86M145.26 549.2H150.86M166.74 510.66V518.86M163.94 510.66H169.54M163.94 518.86H169.54M185.42 479.09V493.03M182.62 479.09H188.22M182.62 493.03H188.22M204.1 472.78V483.76M201.3 472.78H206.9M201.3 483.76H206.9M222.78 472.53V483.19M219.98 472.53H225.58M219.98 483.19H225.58M241.46 474.99V483.19M238.66 474.99H244.26M238.66 483.19H244.26M260.14 476.63V490.57M257.34 476.63H262.94M257.34 490.57H262.94M278.82 473.14V489.95M276.02 473.14H281.62M276.02 489.95H281.62M297.5 483.85V494.83M294.7 483.85H300.3M294.7 494.83H300.3" class="eb"/>
<path d="M73.34 594.4L77.34 598.4L73.34 602.4L69.34 598.4Z" class="f"/>
<path d="M92.02 591.32L96.02 595.32L92.02 599.32L88.02 595.32Z" class="f"/>
<path d="M110.7 586.2L114.7 590.2L110.7 594.2L106.7 590.2Z" class="f"/>
<path d="M148.06 540.28L152.06 544.28L148.06 548.28L144.06 544.28Z" class="f"/>
<path d="M166.74 510.76L170.74 514.76L166.74 518.76L162.74 514.76Z" class="f"/>
<path d="M185.42 482.06L189.42 486.06L185.42 490.06L181.42 486.06Z" class="f"/>
<path d="M204.1 474.27L208.1 478.27L204.1 482.27L200.1 478.27Z" class="f"/>
<path d="M222.78 473.86L226.78 477.86L222.78 481.86L218.78 477.86Z" class="f"/>
<path d="M241.46 475.09L245.46 479.09L241.46 483.09L237.46 479.09Z" class="f"/>
<path d="M260.14 479.6L264.14 483.6L260.14 487.6L256.14 483.6Z" class="f"/>
<path d="M278.82 477.55L282.82 481.55L278.82 485.55L274.82 481.55Z" class="f"/>
<path d="M297.5 485.34L301.5 489.34L297.5 493.34L293.5 489.34Z" class="f"/>
<path d="M459.02 596.7L477.67 596.7L496.32 596.7L514.97 595.88L533.62 595.47L552.26 593.42L570.91 592.19L589.56 583.17L608.21 568.82L626.86 560.62L645.5 552.01L664.15 547.5L682.8 544.22" class="ln"/>
<path d="M552.26 592.19V594.65M549.46 592.19H555.06M549.46 594.65H555.06M570.91 590.55V593.83M568.11 590.55H573.71M568.11 593.83H573.71M589.56 581.12V585.22M586.76 581.12H592.36M586.76 585.22H592.36M608.21 566.36V571.28M605.41 566.36H611.01M605.41 571.28H611.01M626.86 556.52V564.72M624.06 556.52H629.66M624.06 564.72H629.66M645.5 548.32V555.7M642.7 548.32H648.3M642.7 555.7H648.3M664.15 542.58V552.42M661.35 542.58H666.95M661.35 552.42H666.95M682.8 540.12V548.32M680 540.12H685.6M680 548.32H685.6" class="eb"/>
<path d="M459.02 594.1L462.52 599.3L455.52 599.3Z" class="o"/>
<path d="M477.67 594.1L481.17 599.3L474.17 599.3Z" class="o"/>
<path d="M496.32 594.1L499.82 599.3L492.82 599.3Z" class="o"/>
<path d="M514.97 593.28L518.47 598.48L511.47 598.48Z" class="o"/>
<path d="M533.62 592.87L537.12 598.07L530.12 598.07Z" class="o"/>
<path d="M552.26 590.82L555.76 596.02L548.76 596.02Z" class="o"/>
<path d="M570.91 589.59L574.41 594.79L567.41 594.79Z" class="o"/>
<path d="M589.56 580.57L593.06 585.77L586.06 585.77Z" class="o"/>
<path d="M608.21 566.22L611.71 571.42L604.71 571.42Z" class="o"/>
<path d="M626.86 558.02L630.36 563.22L623.36 563.22Z" class="o"/>
<path d="M645.5 549.41L649 554.61L642 554.61Z" class="o"/>
<path d="M664.15 544.9L667.65 550.1L660.65 550.1Z" class="o"/>
<path d="M682.8 541.62L686.3 546.82L679.3 546.82Z" class="o"/>
<path d="M459.02 596.7L477.67 596.7L496.32 596.7L533.62 595.47L552.26 592.6L570.91 590.96L589.56 581.12L608.21 565.54L626.86 549.96L645.5 545.04L664.15 535.61L682.8 531.1" class="ln"/>
<path d="M552.26 591.37V593.83M549.46 591.37H555.06M549.46 593.83H555.06M570.91 588.91V593.01M568.11 588.91H573.71M568.11 593.01H573.71M589.56 578.66V583.58M586.76 578.66H592.36M586.76 583.58H592.36M608.21 560.62V570.46M605.41 560.62H611.01M605.41 570.46H611.01M626.86 547.5V552.42M624.06 547.5H629.66M624.06 552.42H629.66M645.5 540.94V549.14M642.7 540.94H648.3M642.7 549.14H648.3M664.15 532.33V538.89M661.35 532.33H666.95M661.35 538.89H666.95M682.8 525.77V536.43M680 525.77H685.6M680 536.43H685.6" class="eb"/>
<path d="M459.02 593.2L462.52 596.7L459.02 600.2L455.52 596.7Z" class="o"/>
<path d="M477.67 593.2L481.17 596.7L477.67 600.2L474.17 596.7Z" class="o"/>
<path d="M496.32 593.2L499.82 596.7L496.32 600.2L492.82 596.7Z" class="o"/>
<path d="M533.62 591.97L537.12 595.47L533.62 598.97L530.12 595.47Z" class="o"/>
<path d="M552.26 589.1L555.76 592.6L552.26 596.1L548.76 592.6Z" class="o"/>
<path d="M570.91 587.46L574.41 590.96L570.91 594.46L567.41 590.96Z" class="o"/>
<path d="M589.56 577.62L593.06 581.12L589.56 584.62L586.06 581.12Z" class="o"/>
<path d="M608.21 562.04L611.71 565.54L608.21 569.04L604.71 565.54Z" class="o"/>
<path d="M626.86 546.46L630.36 549.96L626.86 553.46L623.36 549.96Z" class="o"/>
<path d="M645.5 541.54L649 545.04L645.5 548.54L642 545.04Z" class="o"/>
<path d="M664.15 532.11L667.65 535.61L664.15 539.11L660.65 535.61Z" class="o"/>
<path d="M682.8 527.6L686.3 531.1L682.8 534.6L679.3 531.1Z" class="o"/>
<path d="M459.02 596.7L477.67 596.7L496.32 596.7L533.62 595.27L552.26 591.78L570.91 583.99L589.56 575.38L608.21 555.7L626.86 541.76L654.83 538.89L682.8 536.02" class="ln"/>
<path d="M552.26 590.55V593.01M549.46 590.55H555.06M549.46 593.01H555.06M570.91 581.12V586.86M568.11 581.12H573.71M568.11 586.86H573.71M589.56 572.1V578.66M586.76 572.1H592.36M586.76 578.66H592.36M608.21 552.83V558.57M605.41 552.83H611.01M605.41 558.57H611.01M626.86 536.02V547.5M624.06 536.02H629.66M624.06 547.5H629.66M654.83 534.79V542.99M652.03 534.79H657.63M652.03 542.99H657.63M682.8 529.87V542.17M680 529.87H685.6M680 542.17H685.6" class="eb"/>
<circle cx="459.02" cy="596.7" r="2.6" class="o"/>
<circle cx="477.67" cy="596.7" r="2.6" class="o"/>
<circle cx="496.32" cy="596.7" r="2.6" class="o"/>
<circle cx="533.62" cy="595.27" r="2.6" class="o"/>
<circle cx="552.26" cy="591.78" r="2.6" class="o"/>
<circle cx="570.91" cy="583.99" r="2.6" class="o"/>
<circle cx="589.56" cy="575.38" r="2.6" class="o"/>
<circle cx="608.21" cy="555.7" r="2.6" class="o"/>
<circle cx="626.86" cy="541.76" r="2.6" class="o"/>
<circle cx="654.83" cy="538.89" r="2.6" class="o"/>
<circle cx="682.8" cy="536.02" r="2.6" class="o"/>
<path d="M459.02 596.7L477.67 593.83L496.32 588.91L514.97 571.28L533.62 540.12L552.26 509.78L570.91 475.34L589.56 460.17L608.21 447.87L626.86 443.77L645.5 447.87L664.15 443.77L682.8 443.77" class="ln"/>
<path d="M496.32 587.68V590.14M493.52 587.68H499.12M493.52 590.14H499.12M514.97 569.23V573.33M512.17 569.23H517.77M512.17 573.33H517.77M533.62 535.2V545.04M530.82 535.2H536.42M530.82 545.04H536.42M552.26 504.86V514.7M549.46 504.86H555.06M549.46 514.7H555.06M570.91 468.78V481.9M568.11 468.78H573.71M568.11 481.9H573.71M589.56 456.07V464.27M586.76 456.07H592.36M586.76 464.27H592.36M608.21 440.29V455.46M605.41 440.29H611.01M605.41 455.46H611.01M626.86 438.85V448.69M624.06 438.85H629.66M624.06 448.69H629.66M645.5 439.06V456.69M642.7 439.06H648.3M642.7 456.69H648.3M664.15 437.62V449.92M661.35 437.62H666.95M661.35 449.92H666.95M682.8 438.85V448.69M680 438.85H685.6M680 448.69H685.6" class="eb"/>
<path d="M459.02 593.4L462.92 600L455.12 600Z" class="f"/>
<path d="M477.67 590.53L481.57 597.13L473.77 597.13Z" class="f"/>
<path d="M496.32 585.61L500.22 592.21L492.42 592.21Z" class="f"/>
<path d="M514.97 567.98L518.87 574.58L511.07 574.58Z" class="f"/>
<path d="M533.62 536.82L537.52 543.42L529.72 543.42Z" class="f"/>
<path d="M552.26 506.48L556.16 513.08L548.36 513.08Z" class="f"/>
<path d="M570.91 472.04L574.81 478.64L567.01 478.64Z" class="f"/>
<path d="M589.56 456.87L593.46 463.47L585.66 463.47Z" class="f"/>
<path d="M608.21 444.57L612.11 451.17L604.31 451.17Z" class="f"/>
<path d="M626.86 440.47L630.76 447.07L622.96 447.07Z" class="f"/>
<path d="M645.5 444.57L649.4 451.17L641.6 451.17Z" class="f"/>
<path d="M664.15 440.47L668.05 447.07L660.25 447.07Z" class="f"/>
<path d="M682.8 440.47L686.7 447.07L678.9 447.07Z" class="f"/>
<path d="M459.02 596.7L477.67 593.62L496.32 583.17L533.62 520.03L552.26 474.93L570.91 447.05L589.56 424.09L608.21 410.56L626.86 413.02L654.83 409.33L682.8 417.12" class="ln"/>
<path d="M496.32 581.94V584.4M493.52 581.94H499.12M493.52 584.4H499.12M533.62 514.7V525.36M530.82 514.7H536.42M530.82 525.36H536.42M552.26 471.45V478.42M549.46 471.45H555.06M549.46 478.42H555.06M570.91 440.9V453.2M568.11 440.9H573.71M568.11 453.2H573.71M589.56 418.47V429.71M586.76 418.47H592.36M586.76 429.71H592.36M608.21 404.41V416.71M605.41 404.41H611.01M605.41 416.71H611.01M626.86 403.59V422.45M624.06 403.59H629.66M624.06 422.45H629.66M654.83 404V414.66M652.03 404H657.63M652.03 414.66H657.63M682.8 409.95V424.3M680 409.95H685.6M680 424.3H685.6" class="eb"/>
<circle cx="459.02" cy="596.7" r="3.1" class="f"/>
<circle cx="477.67" cy="593.62" r="3.1" class="f"/>
<circle cx="496.32" cy="583.17" r="3.1" class="f"/>
<circle cx="533.62" cy="520.03" r="3.1" class="f"/>
<circle cx="552.26" cy="474.93" r="3.1" class="f"/>
<circle cx="570.91" cy="447.05" r="3.1" class="f"/>
<circle cx="589.56" cy="424.09" r="3.1" class="f"/>
<circle cx="608.21" cy="410.56" r="3.1" class="f"/>
<circle cx="626.86" cy="413.02" r="3.1" class="f"/>
<circle cx="654.83" cy="409.33" r="3.1" class="f"/>
<circle cx="682.8" cy="417.12" r="3.1" class="f"/>
<path d="M459.02 596.7L477.67 593.62L496.32 588.5L533.62 538.48L552.26 499.94L570.91 440.9L589.56 401.95L608.21 390.47L626.86 396.62L645.5 393.75L664.15 400.31L682.8 401.54" class="ln"/>
<path d="M496.32 587.27V589.73M493.52 587.27H499.12M493.52 589.73H499.12M533.62 534.79V542.17M530.82 534.79H536.42M530.82 542.17H536.42M552.26 494V505.89M549.46 494H555.06M549.46 505.89H555.06M570.91 433.93V447.87M568.11 433.93H573.71M568.11 447.87H573.71M589.56 396.87V407.03M586.76 396.87H592.36M586.76 407.03H592.36M608.21 386.25V394.69M605.41 386.25H611.01M605.41 394.69H611.01M626.86 386.94V406.3M624.06 386.94H629.66M624.06 406.3H629.66M645.5 386.78V400.72M642.7 386.78H648.3M642.7 400.72H648.3M664.15 393.34V407.28M661.35 393.34H666.95M661.35 407.28H666.95M682.8 397.03V406.05M680 397.03H685.6M680 406.05H685.6" class="eb"/>
<path d="M459.02 592.7L463.02 596.7L459.02 600.7L455.02 596.7Z" class="f"/>
<path d="M477.67 589.62L481.67 593.62L477.67 597.62L473.67 593.62Z" class="f"/>
<path d="M496.32 584.5L500.32 588.5L496.32 592.5L492.32 588.5Z" class="f"/>
<path d="M533.62 534.48L537.62 538.48L533.62 542.48L529.62 538.48Z" class="f"/>
<path d="M552.26 495.94L556.26 499.94L552.26 503.94L548.26 499.94Z" class="f"/>
<path d="M570.91 436.9L574.91 440.9L570.91 444.9L566.91 440.9Z" class="f"/>
<path d="M589.56 397.95L593.56 401.95L589.56 405.95L585.56 401.95Z" class="f"/>
<path d="M608.21 386.47L612.21 390.47L608.21 394.47L604.21 390.47Z" class="f"/>
<path d="M626.86 392.62L630.86 396.62L626.86 400.62L622.86 396.62Z" class="f"/>
<path d="M645.5 389.75L649.5 393.75L645.5 397.75L641.5 393.75Z" class="f"/>
<path d="M664.15 396.31L668.15 400.31L664.15 404.31L660.15 400.31Z" class="f"/>
<path d="M682.8 397.54L686.8 401.54L682.8 405.54L678.8 401.54Z" class="f"/>
<rect x="238.66" y="530" width="5.6" height="2" fill="#000"/>
</svg></body></html>
